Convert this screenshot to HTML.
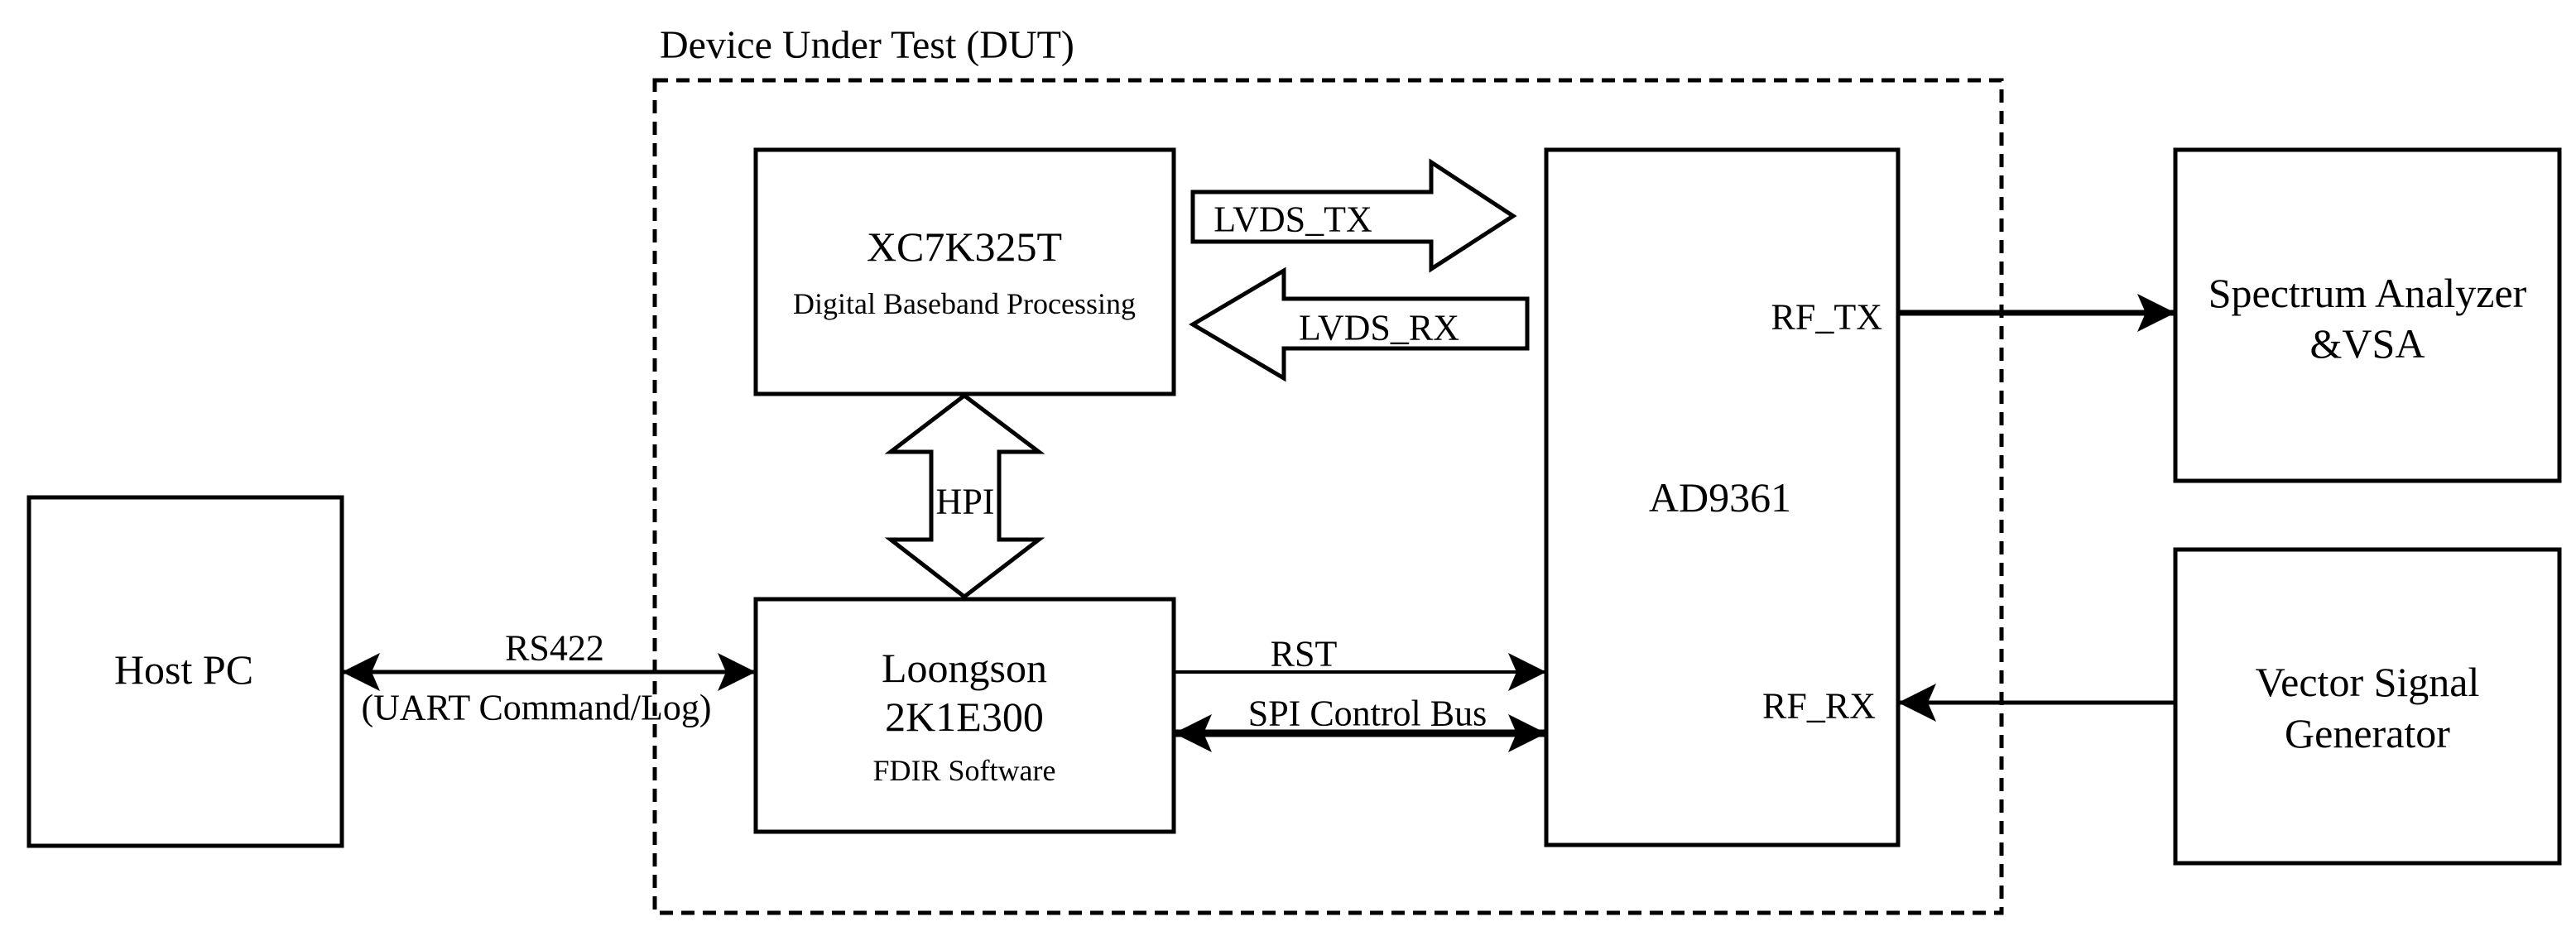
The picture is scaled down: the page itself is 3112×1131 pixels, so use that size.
<!DOCTYPE html>
<html><head><style>html,body{margin:0;padding:0;background:#fff}svg{display:block}</style></head>
<body>
<svg width="3112" height="1131" viewBox="0 0 3112 1131" xmlns="http://www.w3.org/2000/svg" font-family="Liberation Serif, serif" text-anchor="middle" fill="none" stroke="#000">
<defs>
<marker id="ah" markerWidth="10" markerHeight="10" refX="9" refY="5" orient="auto-start-reverse" markerUnits="userSpaceOnUse" viewBox="0 0 10 10"><path d="M0,0 L10,5 L0,10 L3,5 Z" fill="#000" stroke="none"/></marker>
<marker id="ahb" markerWidth="48" markerHeight="46" refX="46" refY="23" orient="auto-start-reverse" markerUnits="userSpaceOnUse"><path d="M0,0 L46,23 L0,46 L10,23 Z" fill="#000" stroke="none"/></marker>
</defs>
<text x="797" y="70" font-size="48" text-anchor="start" fill="#000" stroke="none">Device Under Test (DUT)</text>
<rect x="791" y="97" width="1627" height="1006" stroke-width="5" stroke-dasharray="16 10"/>
<g stroke-width="5">
<rect x="913" y="181" width="505" height="295"/>
<rect x="913" y="724" width="505" height="281"/>
<rect x="35" y="601" width="378" height="421"/>
<rect x="1868" y="181" width="425" height="840"/>
<rect x="2628" y="181" width="464" height="400"/>
<rect x="2628" y="664" width="464" height="379"/>
<path d="M1165,478 L1255,546 L1207,546 L1207,652 L1255,652 L1165,721 L1076,652 L1125,652 L1125,546 L1076,546 Z"/>
<path d="M1441,232 L1729,232 L1729,196 L1828,261 L1729,325 L1729,292 L1441,292 Z"/>
<path d="M1441,392 L1551,327 L1551,361 L1845,361 L1845,421 L1551,421 L1551,457 Z"/>
</g>
<line x1="413" y1="812" x2="913" y2="812" stroke-width="5" marker-start="url(#ahb)" marker-end="url(#ahb)"/>
<line x1="1418" y1="812" x2="1868" y2="812" stroke-width="4" marker-end="url(#ahb)"/>
<line x1="1418" y1="886" x2="1868" y2="886" stroke-width="9" marker-start="url(#ahb)" marker-end="url(#ahb)"/>
<line x1="2293" y1="378" x2="2628" y2="378" stroke-width="7" marker-end="url(#ahb)"/>
<line x1="2628" y1="849" x2="2293" y2="849" stroke-width="5" marker-end="url(#ahb)"/>
<g fill="#000" stroke="none" font-size="50" dominant-baseline="central">
<text x="1165" y="298">XC7K325T</text>
<text x="1165" y="367" font-size="36">Digital Baseband Processing</text>
<text x="1165" y="807">Loongson</text>
<text x="1165" y="866">2K1E300</text>
<text x="1165" y="931" font-size="36">FDIR Software</text>
<text x="222" y="809">Host PC</text>
<text x="670" y="783" font-size="44">RS422</text>
<text x="648" y="855" font-size="44">(UART Command/Log)</text>
<text x="1166" y="606" font-size="44">HPI</text>
<text x="1562" y="265" font-size="44">LVDS_TX</text>
<text x="1666" y="396" font-size="44">LVDS_RX</text>
<text x="2078" y="601">AD9361</text>
<text x="2274" y="383" font-size="44" text-anchor="end">RF_TX</text>
<text x="2266" y="853" font-size="44" text-anchor="end">RF_RX</text>
<text x="1575" y="790" font-size="44">RST</text>
<text x="1652" y="862" font-size="44">SPI Control Bus</text>
<text x="2860" y="354">Spectrum Analyzer</text>
<text x="2860" y="415">&amp;VSA</text>
<text x="2860" y="824">Vector Signal</text>
<text x="2860" y="886">Generator</text>
</g>
</svg>
</body></html>
